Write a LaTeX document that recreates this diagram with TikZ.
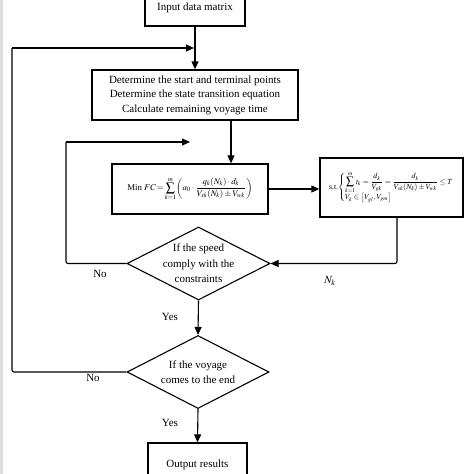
\documentclass[tikz,border=0pt]{standalone}
\usepackage{mathptmx}
\usepackage[no-math]{fontspec}
\setmainfont{Liberation Serif}
\usetikzlibrary{shapes.geometric,arrows.meta,calc}
\begin{document}
\begin{tikzpicture}[x=1pt,y=-1pt,
  box/.style={draw,line width=1.3pt,rectangle,inner sep=0pt,align=center,font=\fontsize{11}{14.5}\selectfont},
  dia/.style={draw,line width=1.1pt,diamond,inner sep=0pt},
  dtext/.style={align=center,font=\fontsize{11}{15.5}\selectfont},
  lbl/.style={font=\fontsize{11}{13}\selectfont},
  arr/.style={line width=1.1pt,-{Triangle[length=8pt,width=7pt]}},
  ln/.style={line width=1.1pt,rounded corners=2pt}]
\useasboundingbox (0,0) rectangle (474,474);
\fill[gray!25] (0,0) rectangle (2.5,474);
% nodes
\node[box,minimum width=100pt,minimum height=36pt] (input) at (195,8) {Input data matrix};
\node[box,minimum width=206pt,minimum height=50pt] (det) at (195,95) {Determine the start and terminal points\\Determine the state transition equation\\Calculate remaining voyage time};
\node[box,minimum width=156pt,minimum height=50pt] (minbox) at (190,189)
  {\fontsize{8.8}{10}\selectfont Min $FC\!=\!\displaystyle\sum_{k=1}^{m}\!\left(a_0\cdot\frac{q_k(N_k)\cdot d_k}{V_{sk}(N_k)\pm V_{wk}}\right)$};
\node[box,minimum width=143pt,minimum height=59pt] (stbox) at (391.5,187.5)
  {\fontsize{7.8}{9}\selectfont s.t.$\left\{\begin{array}{@{}l@{}}\displaystyle\sum_{k=1}^{m} t_k=\frac{d_k}{V_{gk}}=\frac{d_k}{V_{sk}(N_k)\pm V_{wk}}\le T\\[2pt] V_k\in\left[V_{gl},V_{gm}\right]\end{array}\right.$};
\node[dia,minimum width=143pt,minimum height=73pt] (d1) at (198.5,263.5) {};
\node[dtext] (d1t) at (198.5,263.5) {If the speed\\comply with the\\constraints};
\node[dia,minimum width=142pt,minimum height=73pt] (d2) at (198,372) {};
\node[dtext] (d2t) at (198,372) {If the voyage\\comes to the end};
\node[box,minimum width=99pt,minimum height=44pt] (out) at (197.5,465) {Output results};
% coordinates
\coordinate (oL) at (12,48);
\coordinate (oE) at (194,48);
\coordinate (iL) at (66,142);
\coordinate (iE) at (190,142);
\coordinate (c1) at (231,0);
\coordinate (c2) at (397,0);
% connectors
\draw[arr] (input.south) -- (det.north);
\draw[ln] (d2.west) -| (oL);
\draw[arr] (oL) -- (oE);
\draw[arr] (det.south -| c1) -- (minbox.north -| c1);
\draw[ln] (d1.west) -| (iL);
\draw[arr] (iL) -- (iE);
\draw[arr] (minbox.east) -- (minbox.east -| stbox.west);
\draw[ln] (stbox.south -| c2) |- ($(d1.east)+(8,0)$);
\draw[arr] ($(d1.east)+(9,0)$) -- (d1.east);
\draw[arr] (d1.south) -- (d2.north);
\draw[arr] (d2.south) -- (out.north);
% labels
\node[lbl] (no1) at (100,274) {No};
\node[lbl] (nk) at (330,281) {$N_k$};
\node[lbl] (yes1) at (170,317) {Yes};
\node[lbl] (no2) at (93,378) {No};
\node[lbl] (yes2) at (170,423) {Yes};
\end{tikzpicture}
\end{document}
